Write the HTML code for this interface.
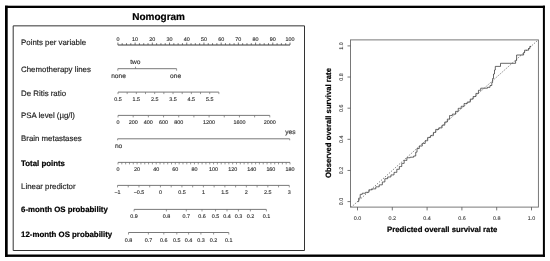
<!DOCTYPE html>
<html><head><meta charset="utf-8"><title>Nomogram and calibration plot</title>
<style>
html,body{margin:0;padding:0;background:#fff;}
body{width:550px;height:261px;overflow:hidden;}
svg{display:block;text-rendering:geometricPrecision;font-family:"Liberation Sans",Arial,Helvetica,sans-serif;}
</style></head><body>
<svg width="550" height="261" viewBox="0 0 550 261">
<rect width="550" height="261" fill="#fff"/>
<rect x="5.0" y="5.7" width="539.9" height="2.3" fill="#000"/>
<rect x="5.0" y="5.7" width="2.7" height="251.2" fill="#000"/>
<rect x="542.9" y="5.7" width="2.0" height="251.2" fill="#000"/>
<rect x="5.0" y="254.5" width="539.9" height="2.4" fill="#000"/>
<path d="M13.2,25.85 H304.5 V250.5 H13.2 Z" fill="none" stroke="#333" stroke-width="1.0"/>
<text x="158.60" y="20.00" font-size="10" text-anchor="middle" font-weight="bold" fill="#000" stroke="#000" stroke-width="0.2" >Nomogram</text>
<text x="21.10" y="44.50" font-size="7.85" text-anchor="start" font-weight="normal" fill="#1a1a1a" stroke="#1a1a1a" stroke-width="0.15" >Points per variable</text>
<text x="21.10" y="72.40" font-size="7.85" text-anchor="start" font-weight="normal" fill="#1a1a1a" stroke="#1a1a1a" stroke-width="0.15" >Chemotherapy lines</text>
<text x="21.10" y="96.20" font-size="7.85" text-anchor="start" font-weight="normal" fill="#1a1a1a" stroke="#1a1a1a" stroke-width="0.15" >De Ritis ratio</text>
<text x="21.10" y="118.30" font-size="7.85" text-anchor="start" font-weight="normal" fill="#1a1a1a" stroke="#1a1a1a" stroke-width="0.15" >PSA level (µg/l)</text>
<text x="21.10" y="140.60" font-size="7.85" text-anchor="start" font-weight="normal" fill="#1a1a1a" stroke="#1a1a1a" stroke-width="0.15" >Brain metastases</text>
<text x="21.10" y="166.40" font-size="7.85" text-anchor="start" font-weight="bold" fill="#000" stroke="#000" stroke-width="0.2" >Total points</text>
<text x="21.10" y="188.50" font-size="7.85" text-anchor="start" font-weight="normal" fill="#1a1a1a" stroke="#1a1a1a" stroke-width="0.15" >Linear predictor</text>
<text x="21.10" y="212.20" font-size="7.85" text-anchor="start" font-weight="bold" fill="#000" stroke="#000" stroke-width="0.2" >6-month OS probability</text>
<text x="21.10" y="237.20" font-size="7.85" text-anchor="start" font-weight="bold" fill="#000" stroke="#000" stroke-width="0.2" >12-month OS probability</text>
<line x1="117.90" y1="45.00" x2="290.00" y2="45.00" stroke="#3a3a3a" stroke-width="1.0" />
<line x1="117.90" y1="45.00" x2="117.90" y2="42.60" stroke="#444" stroke-width="0.75" />
<line x1="122.20" y1="45.00" x2="122.20" y2="43.20" stroke="#444" stroke-width="0.75" />
<line x1="126.51" y1="45.00" x2="126.51" y2="43.20" stroke="#444" stroke-width="0.75" />
<line x1="130.81" y1="45.00" x2="130.81" y2="43.20" stroke="#444" stroke-width="0.75" />
<line x1="135.11" y1="45.00" x2="135.11" y2="42.60" stroke="#444" stroke-width="0.75" />
<line x1="139.41" y1="45.00" x2="139.41" y2="43.20" stroke="#444" stroke-width="0.75" />
<line x1="143.72" y1="45.00" x2="143.72" y2="43.20" stroke="#444" stroke-width="0.75" />
<line x1="148.02" y1="45.00" x2="148.02" y2="43.20" stroke="#444" stroke-width="0.75" />
<line x1="152.32" y1="45.00" x2="152.32" y2="42.60" stroke="#444" stroke-width="0.75" />
<line x1="156.62" y1="45.00" x2="156.62" y2="43.20" stroke="#444" stroke-width="0.75" />
<line x1="160.93" y1="45.00" x2="160.93" y2="43.20" stroke="#444" stroke-width="0.75" />
<line x1="165.23" y1="45.00" x2="165.23" y2="43.20" stroke="#444" stroke-width="0.75" />
<line x1="169.53" y1="45.00" x2="169.53" y2="42.60" stroke="#444" stroke-width="0.75" />
<line x1="173.83" y1="45.00" x2="173.83" y2="43.20" stroke="#444" stroke-width="0.75" />
<line x1="178.13" y1="45.00" x2="178.13" y2="43.20" stroke="#444" stroke-width="0.75" />
<line x1="182.44" y1="45.00" x2="182.44" y2="43.20" stroke="#444" stroke-width="0.75" />
<line x1="186.74" y1="45.00" x2="186.74" y2="42.60" stroke="#444" stroke-width="0.75" />
<line x1="191.04" y1="45.00" x2="191.04" y2="43.20" stroke="#444" stroke-width="0.75" />
<line x1="195.34" y1="45.00" x2="195.34" y2="43.20" stroke="#444" stroke-width="0.75" />
<line x1="199.65" y1="45.00" x2="199.65" y2="43.20" stroke="#444" stroke-width="0.75" />
<line x1="203.95" y1="45.00" x2="203.95" y2="42.60" stroke="#444" stroke-width="0.75" />
<line x1="208.25" y1="45.00" x2="208.25" y2="43.20" stroke="#444" stroke-width="0.75" />
<line x1="212.56" y1="45.00" x2="212.56" y2="43.20" stroke="#444" stroke-width="0.75" />
<line x1="216.86" y1="45.00" x2="216.86" y2="43.20" stroke="#444" stroke-width="0.75" />
<line x1="221.16" y1="45.00" x2="221.16" y2="42.60" stroke="#444" stroke-width="0.75" />
<line x1="225.46" y1="45.00" x2="225.46" y2="43.20" stroke="#444" stroke-width="0.75" />
<line x1="229.76" y1="45.00" x2="229.76" y2="43.20" stroke="#444" stroke-width="0.75" />
<line x1="234.07" y1="45.00" x2="234.07" y2="43.20" stroke="#444" stroke-width="0.75" />
<line x1="238.37" y1="45.00" x2="238.37" y2="42.60" stroke="#444" stroke-width="0.75" />
<line x1="242.67" y1="45.00" x2="242.67" y2="43.20" stroke="#444" stroke-width="0.75" />
<line x1="246.97" y1="45.00" x2="246.97" y2="43.20" stroke="#444" stroke-width="0.75" />
<line x1="251.28" y1="45.00" x2="251.28" y2="43.20" stroke="#444" stroke-width="0.75" />
<line x1="255.58" y1="45.00" x2="255.58" y2="42.60" stroke="#444" stroke-width="0.75" />
<line x1="259.88" y1="45.00" x2="259.88" y2="43.20" stroke="#444" stroke-width="0.75" />
<line x1="264.19" y1="45.00" x2="264.19" y2="43.20" stroke="#444" stroke-width="0.75" />
<line x1="268.49" y1="45.00" x2="268.49" y2="43.20" stroke="#444" stroke-width="0.75" />
<line x1="272.79" y1="45.00" x2="272.79" y2="42.60" stroke="#444" stroke-width="0.75" />
<line x1="277.09" y1="45.00" x2="277.09" y2="43.20" stroke="#444" stroke-width="0.75" />
<line x1="281.39" y1="45.00" x2="281.39" y2="43.20" stroke="#444" stroke-width="0.75" />
<line x1="285.70" y1="45.00" x2="285.70" y2="43.20" stroke="#444" stroke-width="0.75" />
<line x1="290.00" y1="45.00" x2="290.00" y2="42.60" stroke="#444" stroke-width="0.75" />
<text x="117.90" y="40.90" font-size="5.4" text-anchor="middle" font-weight="normal" fill="#333" stroke="#333" stroke-width="0.15" >0</text>
<text x="135.11" y="40.90" font-size="5.4" text-anchor="middle" font-weight="normal" fill="#333" stroke="#333" stroke-width="0.15" >10</text>
<text x="152.32" y="40.90" font-size="5.4" text-anchor="middle" font-weight="normal" fill="#333" stroke="#333" stroke-width="0.15" >20</text>
<text x="169.53" y="40.90" font-size="5.4" text-anchor="middle" font-weight="normal" fill="#333" stroke="#333" stroke-width="0.15" >30</text>
<text x="186.74" y="40.90" font-size="5.4" text-anchor="middle" font-weight="normal" fill="#333" stroke="#333" stroke-width="0.15" >40</text>
<text x="203.95" y="40.90" font-size="5.4" text-anchor="middle" font-weight="normal" fill="#333" stroke="#333" stroke-width="0.15" >50</text>
<text x="221.16" y="40.90" font-size="5.4" text-anchor="middle" font-weight="normal" fill="#333" stroke="#333" stroke-width="0.15" >60</text>
<text x="238.37" y="40.90" font-size="5.4" text-anchor="middle" font-weight="normal" fill="#333" stroke="#333" stroke-width="0.15" >70</text>
<text x="255.58" y="40.90" font-size="5.4" text-anchor="middle" font-weight="normal" fill="#333" stroke="#333" stroke-width="0.15" >80</text>
<text x="272.79" y="40.90" font-size="5.4" text-anchor="middle" font-weight="normal" fill="#333" stroke="#333" stroke-width="0.15" >90</text>
<text x="290.00" y="40.90" font-size="5.4" text-anchor="middle" font-weight="normal" fill="#333" stroke="#333" stroke-width="0.15" >100</text>
<line x1="117.80" y1="68.70" x2="176.60" y2="68.70" stroke="#6a6a6a" stroke-width="0.9" />
<line x1="117.80" y1="68.70" x2="117.80" y2="70.70" stroke="#6a6a6a" stroke-width="0.7" />
<line x1="176.60" y1="68.70" x2="176.60" y2="70.70" stroke="#6a6a6a" stroke-width="0.7" />
<line x1="135.50" y1="68.70" x2="135.50" y2="66.70" stroke="#6a6a6a" stroke-width="0.7" />
<text x="118.50" y="77.80" font-size="6.6" text-anchor="middle" font-weight="normal" fill="#333" stroke="#333" stroke-width="0.15" >none</text>
<text x="135.40" y="63.50" font-size="6.6" text-anchor="middle" font-weight="normal" fill="#333" stroke="#333" stroke-width="0.15" >two</text>
<text x="175.60" y="77.80" font-size="6.6" text-anchor="middle" font-weight="normal" fill="#333" stroke="#333" stroke-width="0.15" >one</text>
<line x1="118.00" y1="92.10" x2="218.87" y2="92.10" stroke="#6a6a6a" stroke-width="0.9" />
<line x1="118.00" y1="92.10" x2="118.00" y2="94.10" stroke="#6a6a6a" stroke-width="0.7" />
<line x1="127.17" y1="92.10" x2="127.17" y2="94.10" stroke="#6a6a6a" stroke-width="0.7" />
<line x1="136.34" y1="92.10" x2="136.34" y2="94.10" stroke="#6a6a6a" stroke-width="0.7" />
<line x1="145.51" y1="92.10" x2="145.51" y2="94.10" stroke="#6a6a6a" stroke-width="0.7" />
<line x1="154.68" y1="92.10" x2="154.68" y2="94.10" stroke="#6a6a6a" stroke-width="0.7" />
<line x1="163.85" y1="92.10" x2="163.85" y2="94.10" stroke="#6a6a6a" stroke-width="0.7" />
<line x1="173.02" y1="92.10" x2="173.02" y2="94.10" stroke="#6a6a6a" stroke-width="0.7" />
<line x1="182.19" y1="92.10" x2="182.19" y2="94.10" stroke="#6a6a6a" stroke-width="0.7" />
<line x1="191.36" y1="92.10" x2="191.36" y2="94.10" stroke="#6a6a6a" stroke-width="0.7" />
<line x1="200.53" y1="92.10" x2="200.53" y2="94.10" stroke="#6a6a6a" stroke-width="0.7" />
<line x1="209.70" y1="92.10" x2="209.70" y2="94.10" stroke="#6a6a6a" stroke-width="0.7" />
<line x1="218.87" y1="92.10" x2="218.87" y2="94.10" stroke="#6a6a6a" stroke-width="0.7" />
<text x="118.00" y="101.30" font-size="5.4" text-anchor="middle" font-weight="normal" fill="#333" stroke="#333" stroke-width="0.15" >0.5</text>
<text x="136.34" y="101.30" font-size="5.4" text-anchor="middle" font-weight="normal" fill="#333" stroke="#333" stroke-width="0.15" >1.5</text>
<text x="154.68" y="101.30" font-size="5.4" text-anchor="middle" font-weight="normal" fill="#333" stroke="#333" stroke-width="0.15" >2.5</text>
<text x="173.02" y="101.30" font-size="5.4" text-anchor="middle" font-weight="normal" fill="#333" stroke="#333" stroke-width="0.15" >3.5</text>
<text x="191.36" y="101.30" font-size="5.4" text-anchor="middle" font-weight="normal" fill="#333" stroke="#333" stroke-width="0.15" >4.5</text>
<text x="209.70" y="101.30" font-size="5.4" text-anchor="middle" font-weight="normal" fill="#333" stroke="#333" stroke-width="0.15" >5.5</text>
<line x1="118.00" y1="115.40" x2="269.80" y2="115.40" stroke="#6a6a6a" stroke-width="0.9" />
<line x1="118.00" y1="115.40" x2="118.00" y2="117.40" stroke="#6a6a6a" stroke-width="0.7" />
<line x1="133.18" y1="115.40" x2="133.18" y2="117.40" stroke="#6a6a6a" stroke-width="0.7" />
<line x1="148.36" y1="115.40" x2="148.36" y2="117.40" stroke="#6a6a6a" stroke-width="0.7" />
<line x1="163.54" y1="115.40" x2="163.54" y2="117.40" stroke="#6a6a6a" stroke-width="0.7" />
<line x1="178.72" y1="115.40" x2="178.72" y2="117.40" stroke="#6a6a6a" stroke-width="0.7" />
<line x1="193.90" y1="115.40" x2="193.90" y2="117.40" stroke="#6a6a6a" stroke-width="0.7" />
<line x1="209.08" y1="115.40" x2="209.08" y2="117.40" stroke="#6a6a6a" stroke-width="0.7" />
<line x1="224.26" y1="115.40" x2="224.26" y2="117.40" stroke="#6a6a6a" stroke-width="0.7" />
<line x1="239.44" y1="115.40" x2="239.44" y2="117.40" stroke="#6a6a6a" stroke-width="0.7" />
<line x1="254.62" y1="115.40" x2="254.62" y2="117.40" stroke="#6a6a6a" stroke-width="0.7" />
<line x1="269.80" y1="115.40" x2="269.80" y2="117.40" stroke="#6a6a6a" stroke-width="0.7" />
<text x="118.00" y="124.20" font-size="5.4" text-anchor="middle" font-weight="normal" fill="#333" stroke="#333" stroke-width="0.15" >0</text>
<text x="133.18" y="124.20" font-size="5.4" text-anchor="middle" font-weight="normal" fill="#333" stroke="#333" stroke-width="0.15" >200</text>
<text x="148.36" y="124.20" font-size="5.4" text-anchor="middle" font-weight="normal" fill="#333" stroke="#333" stroke-width="0.15" >400</text>
<text x="163.54" y="124.20" font-size="5.4" text-anchor="middle" font-weight="normal" fill="#333" stroke="#333" stroke-width="0.15" >600</text>
<text x="178.72" y="124.20" font-size="5.4" text-anchor="middle" font-weight="normal" fill="#333" stroke="#333" stroke-width="0.15" >800</text>
<text x="209.08" y="124.20" font-size="5.4" text-anchor="middle" font-weight="normal" fill="#333" stroke="#333" stroke-width="0.15" >1200</text>
<text x="239.44" y="124.20" font-size="5.4" text-anchor="middle" font-weight="normal" fill="#333" stroke="#333" stroke-width="0.15" >1600</text>
<text x="269.80" y="124.20" font-size="5.4" text-anchor="middle" font-weight="normal" fill="#333" stroke="#333" stroke-width="0.15" >2000</text>
<line x1="117.60" y1="138.80" x2="289.70" y2="138.80" stroke="#6a6a6a" stroke-width="0.9" />
<line x1="117.60" y1="138.80" x2="117.60" y2="140.30" stroke="#6a6a6a" stroke-width="0.7" />
<line x1="289.70" y1="138.80" x2="289.70" y2="140.30" stroke="#6a6a6a" stroke-width="0.7" />
<text x="118.60" y="148.00" font-size="6.6" text-anchor="middle" font-weight="normal" fill="#333" stroke="#333" stroke-width="0.15" >no</text>
<text x="290.40" y="133.90" font-size="6.6" text-anchor="middle" font-weight="normal" fill="#333" stroke="#333" stroke-width="0.15" >yes</text>
<line x1="118.00" y1="162.40" x2="290.00" y2="162.40" stroke="#6a6a6a" stroke-width="0.9" />
<line x1="118.00" y1="162.40" x2="118.00" y2="164.40" stroke="#6a6a6a" stroke-width="0.7" />
<line x1="121.82" y1="162.40" x2="121.82" y2="164.40" stroke="#6a6a6a" stroke-width="0.7" />
<line x1="125.64" y1="162.40" x2="125.64" y2="164.40" stroke="#6a6a6a" stroke-width="0.7" />
<line x1="129.47" y1="162.40" x2="129.47" y2="164.40" stroke="#6a6a6a" stroke-width="0.7" />
<line x1="133.29" y1="162.40" x2="133.29" y2="164.40" stroke="#6a6a6a" stroke-width="0.7" />
<line x1="137.11" y1="162.40" x2="137.11" y2="164.40" stroke="#6a6a6a" stroke-width="0.7" />
<line x1="140.93" y1="162.40" x2="140.93" y2="164.40" stroke="#6a6a6a" stroke-width="0.7" />
<line x1="144.76" y1="162.40" x2="144.76" y2="164.40" stroke="#6a6a6a" stroke-width="0.7" />
<line x1="148.58" y1="162.40" x2="148.58" y2="164.40" stroke="#6a6a6a" stroke-width="0.7" />
<line x1="152.40" y1="162.40" x2="152.40" y2="164.40" stroke="#6a6a6a" stroke-width="0.7" />
<line x1="156.22" y1="162.40" x2="156.22" y2="164.40" stroke="#6a6a6a" stroke-width="0.7" />
<line x1="160.04" y1="162.40" x2="160.04" y2="164.40" stroke="#6a6a6a" stroke-width="0.7" />
<line x1="163.87" y1="162.40" x2="163.87" y2="164.40" stroke="#6a6a6a" stroke-width="0.7" />
<line x1="167.69" y1="162.40" x2="167.69" y2="164.40" stroke="#6a6a6a" stroke-width="0.7" />
<line x1="171.51" y1="162.40" x2="171.51" y2="164.40" stroke="#6a6a6a" stroke-width="0.7" />
<line x1="175.33" y1="162.40" x2="175.33" y2="164.40" stroke="#6a6a6a" stroke-width="0.7" />
<line x1="179.16" y1="162.40" x2="179.16" y2="164.40" stroke="#6a6a6a" stroke-width="0.7" />
<line x1="182.98" y1="162.40" x2="182.98" y2="164.40" stroke="#6a6a6a" stroke-width="0.7" />
<line x1="186.80" y1="162.40" x2="186.80" y2="164.40" stroke="#6a6a6a" stroke-width="0.7" />
<line x1="190.62" y1="162.40" x2="190.62" y2="164.40" stroke="#6a6a6a" stroke-width="0.7" />
<line x1="194.44" y1="162.40" x2="194.44" y2="164.40" stroke="#6a6a6a" stroke-width="0.7" />
<line x1="198.27" y1="162.40" x2="198.27" y2="164.40" stroke="#6a6a6a" stroke-width="0.7" />
<line x1="202.09" y1="162.40" x2="202.09" y2="164.40" stroke="#6a6a6a" stroke-width="0.7" />
<line x1="205.91" y1="162.40" x2="205.91" y2="164.40" stroke="#6a6a6a" stroke-width="0.7" />
<line x1="209.73" y1="162.40" x2="209.73" y2="164.40" stroke="#6a6a6a" stroke-width="0.7" />
<line x1="213.56" y1="162.40" x2="213.56" y2="164.40" stroke="#6a6a6a" stroke-width="0.7" />
<line x1="217.38" y1="162.40" x2="217.38" y2="164.40" stroke="#6a6a6a" stroke-width="0.7" />
<line x1="221.20" y1="162.40" x2="221.20" y2="164.40" stroke="#6a6a6a" stroke-width="0.7" />
<line x1="225.02" y1="162.40" x2="225.02" y2="164.40" stroke="#6a6a6a" stroke-width="0.7" />
<line x1="228.84" y1="162.40" x2="228.84" y2="164.40" stroke="#6a6a6a" stroke-width="0.7" />
<line x1="232.67" y1="162.40" x2="232.67" y2="164.40" stroke="#6a6a6a" stroke-width="0.7" />
<line x1="236.49" y1="162.40" x2="236.49" y2="164.40" stroke="#6a6a6a" stroke-width="0.7" />
<line x1="240.31" y1="162.40" x2="240.31" y2="164.40" stroke="#6a6a6a" stroke-width="0.7" />
<line x1="244.13" y1="162.40" x2="244.13" y2="164.40" stroke="#6a6a6a" stroke-width="0.7" />
<line x1="247.96" y1="162.40" x2="247.96" y2="164.40" stroke="#6a6a6a" stroke-width="0.7" />
<line x1="251.78" y1="162.40" x2="251.78" y2="164.40" stroke="#6a6a6a" stroke-width="0.7" />
<line x1="255.60" y1="162.40" x2="255.60" y2="164.40" stroke="#6a6a6a" stroke-width="0.7" />
<line x1="259.42" y1="162.40" x2="259.42" y2="164.40" stroke="#6a6a6a" stroke-width="0.7" />
<line x1="263.24" y1="162.40" x2="263.24" y2="164.40" stroke="#6a6a6a" stroke-width="0.7" />
<line x1="267.07" y1="162.40" x2="267.07" y2="164.40" stroke="#6a6a6a" stroke-width="0.7" />
<line x1="270.89" y1="162.40" x2="270.89" y2="164.40" stroke="#6a6a6a" stroke-width="0.7" />
<line x1="274.71" y1="162.40" x2="274.71" y2="164.40" stroke="#6a6a6a" stroke-width="0.7" />
<line x1="278.53" y1="162.40" x2="278.53" y2="164.40" stroke="#6a6a6a" stroke-width="0.7" />
<line x1="282.36" y1="162.40" x2="282.36" y2="164.40" stroke="#6a6a6a" stroke-width="0.7" />
<line x1="286.18" y1="162.40" x2="286.18" y2="164.40" stroke="#6a6a6a" stroke-width="0.7" />
<line x1="290.00" y1="162.40" x2="290.00" y2="164.40" stroke="#6a6a6a" stroke-width="0.7" />
<text x="118.00" y="171.10" font-size="5.4" text-anchor="middle" font-weight="normal" fill="#333" stroke="#333" stroke-width="0.15" >0</text>
<text x="137.11" y="171.10" font-size="5.4" text-anchor="middle" font-weight="normal" fill="#333" stroke="#333" stroke-width="0.15" >20</text>
<text x="156.22" y="171.10" font-size="5.4" text-anchor="middle" font-weight="normal" fill="#333" stroke="#333" stroke-width="0.15" >40</text>
<text x="175.33" y="171.10" font-size="5.4" text-anchor="middle" font-weight="normal" fill="#333" stroke="#333" stroke-width="0.15" >60</text>
<text x="194.44" y="171.10" font-size="5.4" text-anchor="middle" font-weight="normal" fill="#333" stroke="#333" stroke-width="0.15" >80</text>
<text x="213.56" y="171.10" font-size="5.4" text-anchor="middle" font-weight="normal" fill="#333" stroke="#333" stroke-width="0.15" >100</text>
<text x="232.67" y="171.10" font-size="5.4" text-anchor="middle" font-weight="normal" fill="#333" stroke="#333" stroke-width="0.15" >120</text>
<text x="251.78" y="171.10" font-size="5.4" text-anchor="middle" font-weight="normal" fill="#333" stroke="#333" stroke-width="0.15" >140</text>
<text x="270.89" y="171.10" font-size="5.4" text-anchor="middle" font-weight="normal" fill="#333" stroke="#333" stroke-width="0.15" >160</text>
<text x="290.00" y="171.10" font-size="5.4" text-anchor="middle" font-weight="normal" fill="#333" stroke="#333" stroke-width="0.15" >180</text>
<line x1="117.50" y1="185.40" x2="289.30" y2="185.40" stroke="#6a6a6a" stroke-width="0.9" />
<line x1="117.50" y1="185.40" x2="117.50" y2="187.40" stroke="#6a6a6a" stroke-width="0.7" />
<line x1="128.24" y1="185.40" x2="128.24" y2="187.40" stroke="#6a6a6a" stroke-width="0.7" />
<line x1="138.97" y1="185.40" x2="138.97" y2="187.40" stroke="#6a6a6a" stroke-width="0.7" />
<line x1="149.71" y1="185.40" x2="149.71" y2="187.40" stroke="#6a6a6a" stroke-width="0.7" />
<line x1="160.45" y1="185.40" x2="160.45" y2="187.40" stroke="#6a6a6a" stroke-width="0.7" />
<line x1="171.19" y1="185.40" x2="171.19" y2="187.40" stroke="#6a6a6a" stroke-width="0.7" />
<line x1="181.93" y1="185.40" x2="181.93" y2="187.40" stroke="#6a6a6a" stroke-width="0.7" />
<line x1="192.66" y1="185.40" x2="192.66" y2="187.40" stroke="#6a6a6a" stroke-width="0.7" />
<line x1="203.40" y1="185.40" x2="203.40" y2="187.40" stroke="#6a6a6a" stroke-width="0.7" />
<line x1="214.14" y1="185.40" x2="214.14" y2="187.40" stroke="#6a6a6a" stroke-width="0.7" />
<line x1="224.88" y1="185.40" x2="224.88" y2="187.40" stroke="#6a6a6a" stroke-width="0.7" />
<line x1="235.61" y1="185.40" x2="235.61" y2="187.40" stroke="#6a6a6a" stroke-width="0.7" />
<line x1="246.35" y1="185.40" x2="246.35" y2="187.40" stroke="#6a6a6a" stroke-width="0.7" />
<line x1="257.09" y1="185.40" x2="257.09" y2="187.40" stroke="#6a6a6a" stroke-width="0.7" />
<line x1="267.83" y1="185.40" x2="267.83" y2="187.40" stroke="#6a6a6a" stroke-width="0.7" />
<line x1="278.56" y1="185.40" x2="278.56" y2="187.40" stroke="#6a6a6a" stroke-width="0.7" />
<line x1="289.30" y1="185.40" x2="289.30" y2="187.40" stroke="#6a6a6a" stroke-width="0.7" />
<text x="117.50" y="194.30" font-size="5.4" text-anchor="middle" font-weight="normal" fill="#333" stroke="#333" stroke-width="0.15" >−1</text>
<text x="138.97" y="194.30" font-size="5.4" text-anchor="middle" font-weight="normal" fill="#333" stroke="#333" stroke-width="0.15" >−0.5</text>
<text x="160.45" y="194.30" font-size="5.4" text-anchor="middle" font-weight="normal" fill="#333" stroke="#333" stroke-width="0.15" >0</text>
<text x="181.93" y="194.30" font-size="5.4" text-anchor="middle" font-weight="normal" fill="#333" stroke="#333" stroke-width="0.15" >0.5</text>
<text x="203.40" y="194.30" font-size="5.4" text-anchor="middle" font-weight="normal" fill="#333" stroke="#333" stroke-width="0.15" >1</text>
<text x="224.88" y="194.30" font-size="5.4" text-anchor="middle" font-weight="normal" fill="#333" stroke="#333" stroke-width="0.15" >1.5</text>
<text x="246.35" y="194.30" font-size="5.4" text-anchor="middle" font-weight="normal" fill="#333" stroke="#333" stroke-width="0.15" >2</text>
<text x="267.83" y="194.30" font-size="5.4" text-anchor="middle" font-weight="normal" fill="#333" stroke="#333" stroke-width="0.15" >2.5</text>
<text x="289.30" y="194.30" font-size="5.4" text-anchor="middle" font-weight="normal" fill="#333" stroke="#333" stroke-width="0.15" >3</text>
<line x1="134.10" y1="209.40" x2="266.40" y2="209.40" stroke="#6a6a6a" stroke-width="0.9" />
<line x1="134.10" y1="209.40" x2="134.10" y2="211.40" stroke="#6a6a6a" stroke-width="0.7" />
<text x="134.10" y="218.20" font-size="5.4" text-anchor="middle" font-weight="normal" fill="#333" stroke="#333" stroke-width="0.15" >0.9</text>
<line x1="166.40" y1="209.40" x2="166.40" y2="211.40" stroke="#6a6a6a" stroke-width="0.7" />
<text x="166.40" y="218.20" font-size="5.4" text-anchor="middle" font-weight="normal" fill="#333" stroke="#333" stroke-width="0.15" >0.8</text>
<line x1="186.30" y1="209.40" x2="186.30" y2="211.40" stroke="#6a6a6a" stroke-width="0.7" />
<text x="186.30" y="218.20" font-size="5.4" text-anchor="middle" font-weight="normal" fill="#333" stroke="#333" stroke-width="0.15" >0.7</text>
<line x1="202.00" y1="209.40" x2="202.00" y2="211.40" stroke="#6a6a6a" stroke-width="0.7" />
<text x="202.00" y="218.20" font-size="5.4" text-anchor="middle" font-weight="normal" fill="#333" stroke="#333" stroke-width="0.15" >0.6</text>
<line x1="215.50" y1="209.40" x2="215.50" y2="211.40" stroke="#6a6a6a" stroke-width="0.7" />
<text x="215.50" y="218.20" font-size="5.4" text-anchor="middle" font-weight="normal" fill="#333" stroke="#333" stroke-width="0.15" >0.5</text>
<line x1="227.00" y1="209.40" x2="227.00" y2="211.40" stroke="#6a6a6a" stroke-width="0.7" />
<text x="227.00" y="218.20" font-size="5.4" text-anchor="middle" font-weight="normal" fill="#333" stroke="#333" stroke-width="0.15" >0.4</text>
<line x1="238.40" y1="209.40" x2="238.40" y2="211.40" stroke="#6a6a6a" stroke-width="0.7" />
<text x="238.40" y="218.20" font-size="5.4" text-anchor="middle" font-weight="normal" fill="#333" stroke="#333" stroke-width="0.15" >0.3</text>
<line x1="250.40" y1="209.40" x2="250.40" y2="211.40" stroke="#6a6a6a" stroke-width="0.7" />
<text x="250.40" y="218.20" font-size="5.4" text-anchor="middle" font-weight="normal" fill="#333" stroke="#333" stroke-width="0.15" >0.2</text>
<line x1="266.40" y1="209.40" x2="266.40" y2="211.40" stroke="#6a6a6a" stroke-width="0.7" />
<text x="266.40" y="218.20" font-size="5.4" text-anchor="middle" font-weight="normal" fill="#333" stroke="#333" stroke-width="0.15" >0.1</text>
<line x1="128.50" y1="232.50" x2="228.80" y2="232.50" stroke="#6a6a6a" stroke-width="0.9" />
<line x1="128.50" y1="232.50" x2="128.50" y2="234.50" stroke="#6a6a6a" stroke-width="0.7" />
<text x="128.50" y="241.70" font-size="5.4" text-anchor="middle" font-weight="normal" fill="#333" stroke="#333" stroke-width="0.15" >0.8</text>
<line x1="148.40" y1="232.50" x2="148.40" y2="234.50" stroke="#6a6a6a" stroke-width="0.7" />
<text x="148.40" y="241.70" font-size="5.4" text-anchor="middle" font-weight="normal" fill="#333" stroke="#333" stroke-width="0.15" >0.7</text>
<line x1="163.80" y1="232.50" x2="163.80" y2="234.50" stroke="#6a6a6a" stroke-width="0.7" />
<text x="163.80" y="241.70" font-size="5.4" text-anchor="middle" font-weight="normal" fill="#333" stroke="#333" stroke-width="0.15" >0.6</text>
<line x1="176.80" y1="232.50" x2="176.80" y2="234.50" stroke="#6a6a6a" stroke-width="0.7" />
<text x="176.80" y="241.70" font-size="5.4" text-anchor="middle" font-weight="normal" fill="#333" stroke="#333" stroke-width="0.15" >0.5</text>
<line x1="188.60" y1="232.50" x2="188.60" y2="234.50" stroke="#6a6a6a" stroke-width="0.7" />
<text x="188.60" y="241.70" font-size="5.4" text-anchor="middle" font-weight="normal" fill="#333" stroke="#333" stroke-width="0.15" >0.4</text>
<line x1="200.90" y1="232.50" x2="200.90" y2="234.50" stroke="#6a6a6a" stroke-width="0.7" />
<text x="200.90" y="241.70" font-size="5.4" text-anchor="middle" font-weight="normal" fill="#333" stroke="#333" stroke-width="0.15" >0.3</text>
<line x1="213.60" y1="232.50" x2="213.60" y2="234.50" stroke="#6a6a6a" stroke-width="0.7" />
<text x="213.60" y="241.70" font-size="5.4" text-anchor="middle" font-weight="normal" fill="#333" stroke="#333" stroke-width="0.15" >0.2</text>
<line x1="228.80" y1="232.50" x2="228.80" y2="234.50" stroke="#6a6a6a" stroke-width="0.7" />
<text x="228.80" y="241.70" font-size="5.4" text-anchor="middle" font-weight="normal" fill="#333" stroke="#333" stroke-width="0.15" >0.1</text>
<rect x="350.5" y="39.9" width="187.89999999999998" height="167.2" fill="none" stroke="#6a6a6a" stroke-width="0.9"/>
<line x1="357.50" y1="207.10" x2="357.50" y2="210.40" stroke="#555" stroke-width="0.8" />
<text x="357.50" y="219.70" font-size="5.4" text-anchor="middle" font-weight="normal" fill="#3c3c3c" stroke="#3c3c3c" stroke-width="0.1" >0.0</text>
<line x1="350.50" y1="201.60" x2="347.50" y2="201.60" stroke="#555" stroke-width="0.8" />
<text x="343.20" y="201.60" font-size="5.4" text-anchor="middle" font-weight="normal" fill="#3c3c3c" stroke="#3c3c3c" stroke-width="0.1" transform="rotate(-90 343.20 201.60)">0.0</text>
<line x1="392.30" y1="207.10" x2="392.30" y2="210.40" stroke="#555" stroke-width="0.8" />
<text x="392.30" y="219.70" font-size="5.4" text-anchor="middle" font-weight="normal" fill="#3c3c3c" stroke="#3c3c3c" stroke-width="0.1" >0.2</text>
<line x1="350.50" y1="170.46" x2="347.50" y2="170.46" stroke="#555" stroke-width="0.8" />
<text x="343.20" y="170.46" font-size="5.4" text-anchor="middle" font-weight="normal" fill="#3c3c3c" stroke="#3c3c3c" stroke-width="0.1" transform="rotate(-90 343.20 170.46)">0.2</text>
<line x1="427.10" y1="207.10" x2="427.10" y2="210.40" stroke="#555" stroke-width="0.8" />
<text x="427.10" y="219.70" font-size="5.4" text-anchor="middle" font-weight="normal" fill="#3c3c3c" stroke="#3c3c3c" stroke-width="0.1" >0.4</text>
<line x1="350.50" y1="139.32" x2="347.50" y2="139.32" stroke="#555" stroke-width="0.8" />
<text x="343.20" y="139.32" font-size="5.4" text-anchor="middle" font-weight="normal" fill="#3c3c3c" stroke="#3c3c3c" stroke-width="0.1" transform="rotate(-90 343.20 139.32)">0.4</text>
<line x1="461.90" y1="207.10" x2="461.90" y2="210.40" stroke="#555" stroke-width="0.8" />
<text x="461.90" y="219.70" font-size="5.4" text-anchor="middle" font-weight="normal" fill="#3c3c3c" stroke="#3c3c3c" stroke-width="0.1" >0.6</text>
<line x1="350.50" y1="108.18" x2="347.50" y2="108.18" stroke="#555" stroke-width="0.8" />
<text x="343.20" y="108.18" font-size="5.4" text-anchor="middle" font-weight="normal" fill="#3c3c3c" stroke="#3c3c3c" stroke-width="0.1" transform="rotate(-90 343.20 108.18)">0.6</text>
<line x1="496.70" y1="207.10" x2="496.70" y2="210.40" stroke="#555" stroke-width="0.8" />
<text x="496.70" y="219.70" font-size="5.4" text-anchor="middle" font-weight="normal" fill="#3c3c3c" stroke="#3c3c3c" stroke-width="0.1" >0.8</text>
<line x1="350.50" y1="77.04" x2="347.50" y2="77.04" stroke="#555" stroke-width="0.8" />
<text x="343.20" y="77.04" font-size="5.4" text-anchor="middle" font-weight="normal" fill="#3c3c3c" stroke="#3c3c3c" stroke-width="0.1" transform="rotate(-90 343.20 77.04)">0.8</text>
<line x1="531.50" y1="207.10" x2="531.50" y2="210.40" stroke="#555" stroke-width="0.8" />
<text x="531.50" y="219.70" font-size="5.4" text-anchor="middle" font-weight="normal" fill="#3c3c3c" stroke="#3c3c3c" stroke-width="0.1" >1.0</text>
<line x1="350.50" y1="45.90" x2="347.50" y2="45.90" stroke="#555" stroke-width="0.8" />
<text x="343.20" y="45.90" font-size="5.4" text-anchor="middle" font-weight="normal" fill="#3c3c3c" stroke="#3c3c3c" stroke-width="0.1" transform="rotate(-90 343.20 45.90)">1.0</text>
<clipPath id="cp"><rect x="350.5" y="39.9" width="187.89999999999998" height="167.2"/></clipPath>
<line x1="348.80" y1="209.38" x2="541.94" y2="36.56" stroke="#555" stroke-width="0.7" stroke-dasharray="1.4,1.3" clip-path="url(#cp)"/>
<polyline fill="none" stroke="#2e2e2e" stroke-width="0.72" stroke-linejoin="miter" points="357.60,201.60 358.65,201.60 358.65,198.22 359.70,198.22 360.20,198.22 360.20,194.35 360.70,194.35 362.26,194.35 362.26,193.22 363.82,193.22 365.64,193.22 365.64,192.30 367.46,192.30 368.88,192.30 368.88,189.79 370.30,189.79 372.19,189.79 372.19,188.86 374.09,188.86 375.79,188.86 375.79,186.82 377.49,186.82 379.22,186.82 379.22,184.83 380.95,184.83 382.34,184.83 382.34,181.96 383.73,181.96 384.88,181.96 384.88,178.70 386.04,178.70 387.70,178.70 387.70,176.97 389.36,176.97 390.93,176.97 390.93,174.92 392.50,174.92 394.03,174.92 394.03,172.35 395.56,172.35 396.82,172.35 396.82,169.28 398.09,169.28 399.36,169.28 399.36,166.54 400.63,166.54 401.74,166.54 401.74,163.36 402.85,163.36 404.16,163.36 404.16,160.42 405.46,160.42 406.87,160.42 406.87,157.74 408.27,157.74 410.19,157.74 410.19,157.20 412.11,157.20 413.67,157.20 413.67,156.03 415.22,156.03 415.73,156.03 415.73,152.16 416.25,152.16 417.03,152.16 417.03,148.56 417.80,148.56 419.29,148.56 419.29,146.04 420.78,146.04 422.27,146.04 422.27,143.44 423.76,143.44 425.20,143.44 425.20,140.75 426.63,140.75 427.69,140.75 427.69,137.43 428.75,137.43 430.54,137.43 430.54,135.65 432.33,135.65 433.41,135.65 433.41,132.43 434.49,132.43 435.72,132.43 435.72,129.41 436.96,129.41 438.78,129.41 438.78,127.89 440.61,127.89 442.07,127.89 442.07,125.19 443.54,125.19 444.75,125.19 444.75,122.01 445.96,122.01 447.33,122.01 447.33,119.10 448.70,119.10 449.59,119.10 449.59,115.53 450.48,115.53 452.35,115.53 452.35,114.13 454.22,114.13 455.58,114.13 455.58,111.36 456.95,111.36 458.22,111.36 458.22,108.33 459.50,108.33 461.19,108.33 461.19,106.29 462.87,106.29 464.12,106.29 464.12,103.49 465.36,103.49 467.17,103.49 467.17,102.08 468.98,102.08 470.29,102.08 470.29,99.08 471.60,99.08 473.13,99.08 473.13,96.50 474.66,96.50 475.92,96.50 475.92,93.41 477.19,93.41 478.44,93.41 478.44,90.30 479.70,90.30 480.75,90.30 480.75,88.20 481.80,88.20 487.50,88.20 487.50,87.30 490.00,87.30 490.00,85.50 491.80,85.50 491.80,82.50 492.60,82.50 492.60,78.50 493.50,78.50 493.50,74.00 494.50,74.00 494.50,70.00 495.30,70.00 495.30,66.40 500.50,66.40 500.50,63.30 515.60,63.30 515.60,60.50 516.60,60.50 516.60,55.00 523.60,55.00 523.60,52.60 524.60,52.60 524.60,50.20 528.60,50.20 528.60,48.60 529.80,48.60 529.80,46.40 531.20,46.40"/>
<text x="442.20" y="231.80" font-size="7.75" text-anchor="middle" font-weight="bold" fill="#000" stroke="#000" stroke-width="0.2" >Predicted overall survival rate</text>
<text x="331.20" y="123.00" font-size="7.7" text-anchor="middle" font-weight="bold" fill="#000" stroke="#000" stroke-width="0.2" transform="rotate(-90 331.2 123)">Observed overall survival rate</text>
</svg>
</body></html>
